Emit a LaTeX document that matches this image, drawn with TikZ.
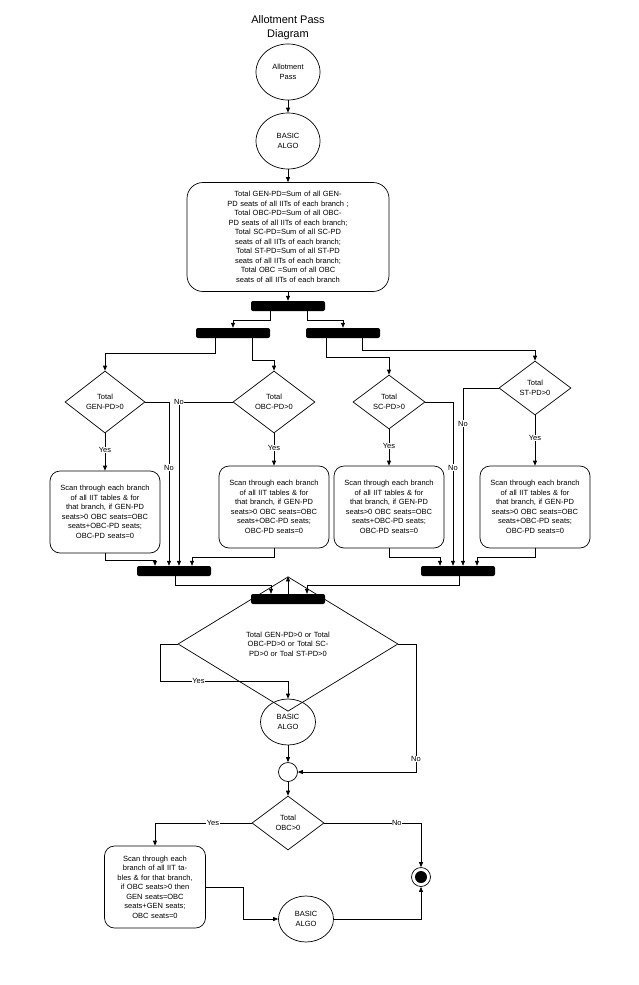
\documentclass[tikz,border=0pt]{standalone}
\usepackage{fontspec}
\setmainfont{Liberation Sans}
\usetikzlibrary{shapes.geometric,arrows.meta}
\begin{document}
\begin{tikzpicture}[x=1pt,y=-1pt,
  every node/.style={font=\fontsize{7.5}{9.5}\selectfont},
  arr/.style={draw,-{Triangle[length=5pt,width=4pt]},line width=0.7pt},
  ln/.style={draw,line width=0.7pt},
  circ/.style={ellipse,draw,line width=0.7pt,minimum width=55pt,minimum height=46pt,inner sep=0pt,align=center},
  box/.style={draw,line width=0.7pt,rounded corners=10pt,align=center,inner sep=2pt},
  bar/.style={fill=black,rounded corners=2pt,minimum width=74pt,minimum height=10pt,inner sep=0pt},
  dia/.style={diamond,draw,line width=0.7pt,inner sep=0pt,align=center},
  lab/.style={fill=white,inner sep=0.5pt}]
\useasboundingbox (0,0) rectangle (638,985);
\node[font=\fontsize{11}{14}\selectfont,align=center] (title) at (288,28) {Allotment Pass\\Diagram};
\node[circ,minimum width=64pt,minimum height=56pt] (start) at (288,72) {Allotment\\Pass};
\node[circ,minimum width=64pt,minimum height=56pt] (ba1) at (288,141) {BASIC\\ALGO};
\node[box,minimum width=202pt,minimum height=109pt,text width=196pt,rounded corners=16pt] (tot) at (288,237) {Total GEN-PD=Sum of all GEN-PD seats of all IITs of each branch ;\\ Total OBC-PD=Sum of all OBC-PD seats of all IITs of each branch;\\ Total SC-PD=Sum of all SC-PD seats of all IITs of each branch;\\ Total ST-PD=Sum of all ST-PD seats of all IITs of each branch;\\ Total OBC =Sum of all OBC seats of all IITs of each branch};
\node[bar] (b1) at (288,306) {};
\node[bar] (b2l) at (233,333) {};
\node[bar] (b2r) at (343,333) {};
\node[dia,minimum width=80pt,minimum height=62pt] (dg) at (105,402) {Total\\GEN-PD>0};
\node[dia,minimum width=82pt,minimum height=62pt] (do) at (274,402) {Total\\OBC-PD>0};
\node[dia,minimum width=72pt,minimum height=54pt] (ds) at (389,402) {Total\\SC-PD>0};
\node[dia,minimum width=72pt,minimum height=54pt] (dt) at (535,388) {Total\\ST-PD>0};
\node[box,minimum width=110pt,minimum height=82pt,text width=106pt] (sg) at (105,512) {Scan through each branch of all IIT tables \& for that branch, if GEN-PD seats>0 OBC seats=OBC seats+OBC-PD seats;\\ OBC-PD seats=0};
\node[box,minimum width=110pt,minimum height=82pt,text width=106pt] (so) at (274,507) {Scan through each branch of all IIT tables \& for that branch, if GEN-PD seats>0 OBC seats=OBC seats+OBC-PD seats;\\ OBC-PD seats=0};
\node[box,minimum width=110pt,minimum height=82pt,text width=106pt] (ss) at (389,507) {Scan through each branch of all IIT tables \& for that branch, if GEN-PD seats>0 OBC seats=OBC seats+OBC-PD seats;\\ OBC-PD seats=0};
\node[box,minimum width=110pt,minimum height=82pt,text width=106pt] (st) at (535,507) {Scan through each branch of all IIT tables \& for that branch, if GEN-PD seats>0 OBC seats=OBC seats+OBC-PD seats;\\ OBC-PD seats=0};
\node[bar] (b3l) at (174,571) {};
\node[bar] (b3r) at (458,571) {};
\node[bar] (b4) at (288,599) {};
\node[dia,minimum width=220pt,minimum height=54pt,text width=110pt] (dbig) at (288,644) {Total GEN-PD>0 or Total OBC-PD>0 or Total SC-PD>0 or Toal ST-PD>0};
\node[circ] (ba2) at (288,722) {BASIC\\ALGO};
\node[circle,draw,line width=0.7pt,minimum size=19pt,inner sep=0pt] (mg) at (288,772) {};
\node[dia,minimum width=72pt,minimum height=54pt] (dobc) at (288,823) {Total\\OBC>0};
\node[box,minimum width=101pt,minimum height=82pt,text width=96pt] (sobc) at (155,887) {Scan through each branch of all IIT tables \& for that branch,\\ if OBC seats>0 then GEN seats=OBC seats+GEN seats;\\ OBC seats=0};
\node[circ] (ba3) at (306,919) {BASIC\\ALGO};
\node[circle,draw,line width=0.7pt,minimum size=19pt,inner sep=0pt] (end) at (421,877) {};
\fill (end) circle (6pt);
% connectors
\draw[arr] (start) -- (ba1);
\draw[arr] (ba1) -- (tot);
\draw[arr] (tot) -- (b1);
\draw[arr] (b1.south -| 270,0) -- (270,320) -| (b2l.north);
\draw[arr] (b1.south -| 307,0) -- (307,320) -| (b2r.north);
\draw[arr] (b2l.south -| 215,0) -- (215,353) -| (dg.north);
\draw[arr] (b2l.south -| 252,0) -- (252,360) -| (do.north);
\draw[arr] (b2r.south -| 326,0) -- (326,357) -| (ds.north);
\draw[arr] (b2r.south -| 362,0) -- (362,350) -| (dt.north);
\draw[arr] (dg) -- node[lab,pos=0.45]{Yes} (sg);
\draw[arr] (do) -- node[lab,pos=0.45]{Yes} (so);
\draw[arr] (ds) -- node[lab,pos=0.45]{Yes} (st.north -| ss.north);
\draw[arr] (dt) -- node[lab,pos=0.45]{Yes} (st);
\draw[arr] (dg.east) -| node[lab,pos=0.7]{No} (b3l.north -| 169,0);
\draw[arr] (do.west) -| node[lab,pos=0.5]{No} (b3l.north -| 179,0);
\draw[arr] (sg.south) |- (155,560) -- (b3l.north -| 155,0);
\draw[arr] (so.south) |- (192,557) -- (b3l.north -| 192,0);
\draw[arr] (ds.east) -| node[lab,pos=0.7]{No} (b3r.north -| 453,0);
\draw[arr] (dt.west) -| node[lab,pos=0.6]{No} (b3r.north -| 463,0);
\draw[arr] (ss.south) |- (440,557) -- (b3r.north -| 440,0);
\draw[arr] (st.south) |- (477,557) -- (b3r.north -| 477,0);
\draw[arr] (b3l.south -| 175,0) -- (175,585) -| (b4.north -| 271,0);
\draw[arr] (b3r.south -| 459,0) -- (459,585) -| (b4.north -| 307,0);
\draw[arr] (b4) -- (dbig);
\draw[arr] (dbig.west) -- (160,644) -- (160,681) -- node[lab,pos=0.3]{Yes} (288,681) -- (ba2.north);
\draw[arr] (dbig.east) -- (416,644) -- node[lab,pos=0.9]{No} (416,772) -- (mg.east);
\draw[arr] (ba2) -- (mg);
\draw[arr] (mg) -- (dobc);
\draw[arr] (dobc.west) -- node[lab,pos=0.4]{Yes} (155,823) -- (sobc.north);
\draw[arr] (dobc.east) -- node[lab,pos=0.75]{No} (421,823) -- (end.north);
\draw[arr] (sobc.east) -- (243,887) -- (243,919) -- (ba3.west);
\draw[arr] (ba3.east) -- (421,919) -- (end.south);
\end{tikzpicture}
\end{document}
